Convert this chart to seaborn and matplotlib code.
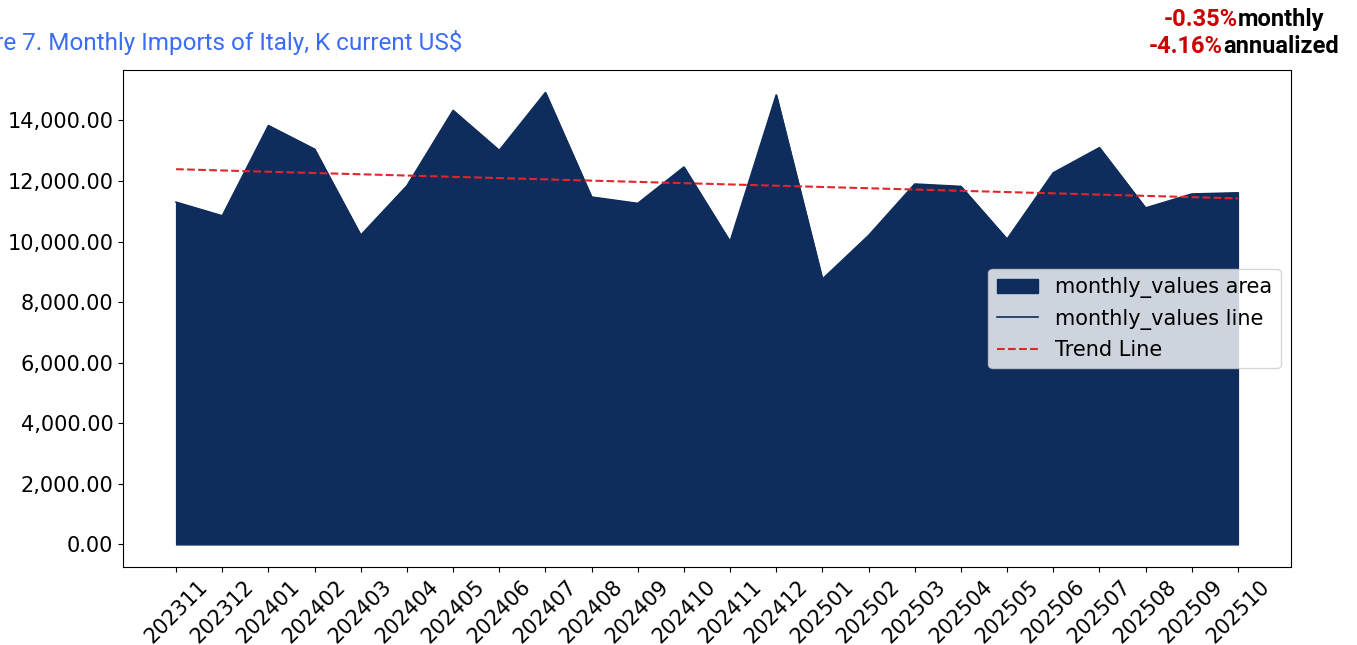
import matplotlib
matplotlib.use("Agg")
import matplotlib.pyplot as plt
import numpy as np
import seaborn as sns

# ---- data ---- #
months = ["202311", "202312", "202401", "202402", "202403", "202404", "202405",
          "202406", "202407", "202408", "202409", "202410", "202411", "202412",
          "202501", "202502", "202503", "202504", "202505", "202506", "202507",
          "202508", "202509", "202510"]
monthly_values = [11300, 10850, 13830, 13050, 10210, 11840, 14330,
                  13010, 14920, 11470, 11260, 12460, 10000, 14840,
                  8760, 10200, 11900, 11820, 10080, 12270, 13100,
                  11110, 11570, 11610]
monthly_rate = "-0.35%"
annual_rate = "-4.16%"

plt.rcParams["font.family"] = ["DejaVu Sans"]

NAVY = "#0e2d5c"
x = np.arange(len(months))
y = np.array(monthly_values, dtype=float)

# linear trend over the series
coef = np.polyfit(x, y, 1)
trend = np.polyval(coef, x)

fig = plt.figure(figsize=(13.57, 6.45), dpi=100)
ax = fig.add_axes([123 / 1357, 1 - 567 / 645, (1291 - 123) / 1357, (567 - 70) / 645])

ax.fill_between(x, y, color=NAVY, label="monthly_values area")
sns.lineplot(x=x, y=y, color=NAVY, linewidth=1.2, label="monthly_values line", ax=ax)
sns.lineplot(x=x, y=trend, color="#e0262b", linestyle="--", linewidth=1.5,
             label="Trend Line", ax=ax)

ax.set_xticks(x)
ax.set_xticklabels(months, rotation=45, ha="center", fontsize=15)
ax.yaxis.set_major_formatter(matplotlib.ticker.StrMethodFormatter("{x:,.2f}"))
ax.tick_params(axis="y", labelsize=15)
ax.legend(loc="center right", fontsize=15)

# title, clipped at the left edge like the original
fig.text(462 / 1357, 1 - 50 / 645, "Figure 7. Monthly Imports of Italy, K current US$",
         ha="right", va="baseline", fontsize=17.5, color="#3b6cf6", family="Roboto")

# two-colour growth annotation, each line centred on one x
renderer = fig.canvas.get_renderer()
cx = 1244 / 1357
for red, black, base in [(monthly_rate, "monthly", 26), (annual_rate, "annualized", 53)]:
    kw = dict(fontsize=17, fontweight="bold", family="Roboto", va="baseline")
    yb = 1 - base / 645
    t1 = fig.text(0, yb, red, color="#cc0000", **kw)
    t2 = fig.text(0, yb, black, color="black", **kw)
    w1 = t1.get_window_extent(renderer).width / fig.bbox.width
    w2 = t2.get_window_extent(renderer).width / fig.bbox.width
    x0 = cx - (w1 + w2) / 2
    t1.set_x(x0)
    t2.set_x(x0 + w1)

fig.savefig("out.png", dpi=100)
